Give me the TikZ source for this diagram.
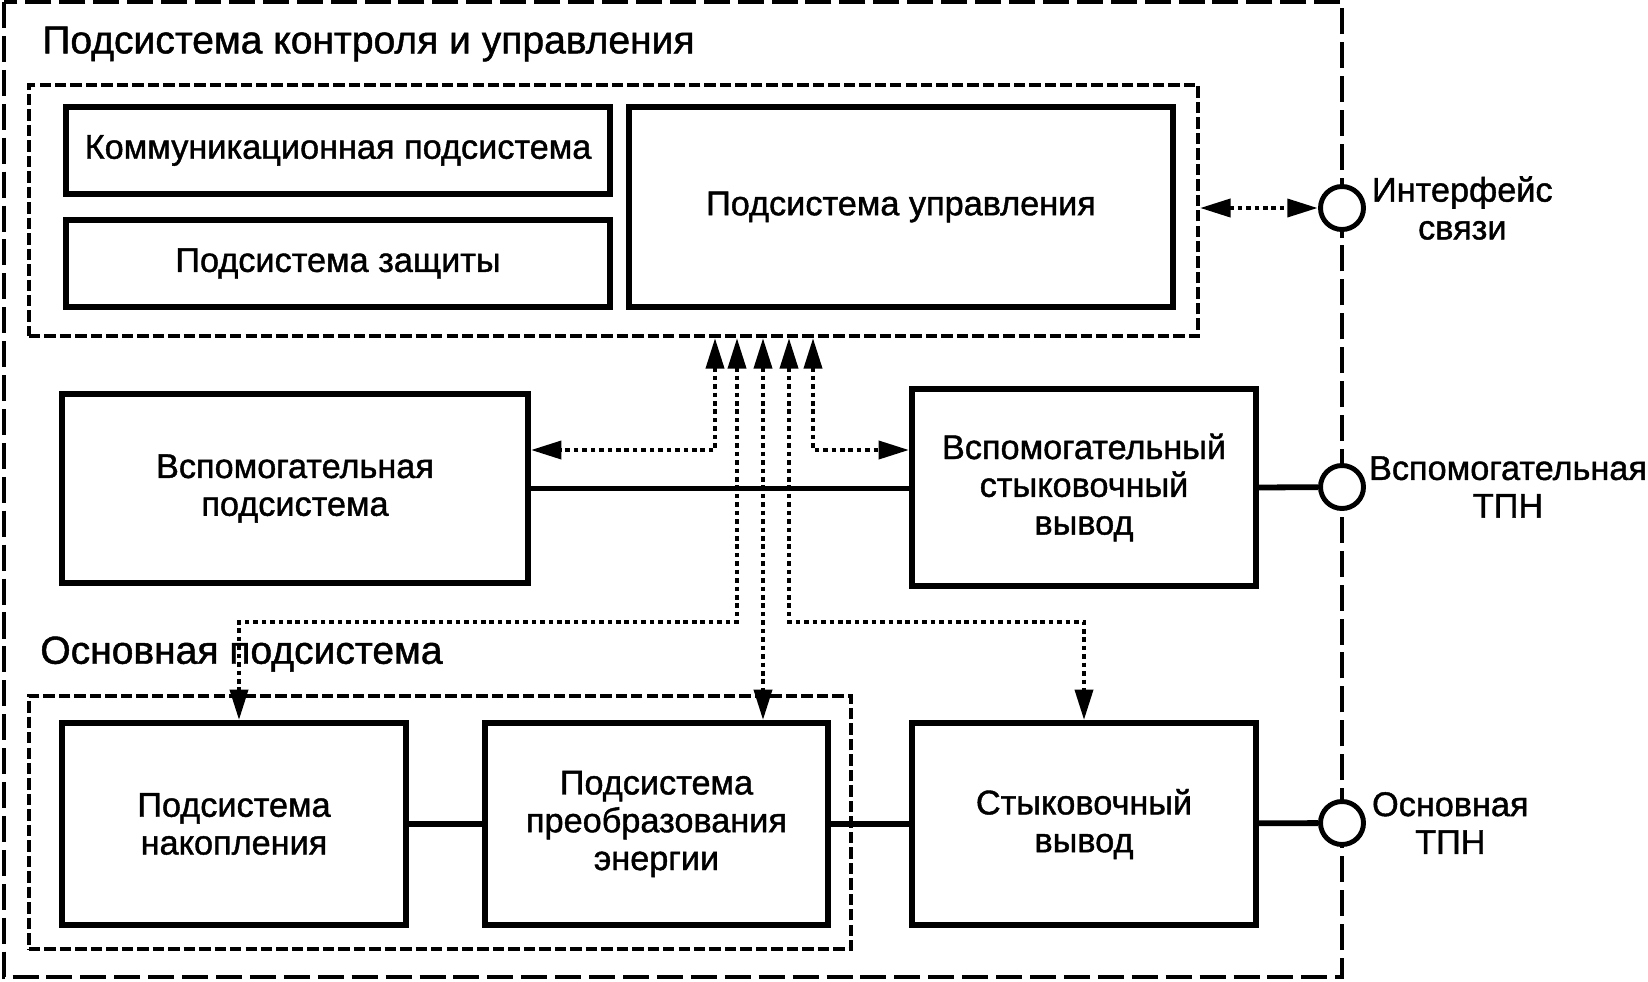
\documentclass[tikz,border=0pt]{standalone}
\usepackage{fontspec}
\setmainfont{Liberation Sans}
\newfontfamily\plotnyi{Liberation Sans}[FakeBold=1.2]
\usetikzlibrary{arrows.meta,positioning}

\tikzset{
  blok/.style={draw, line width=3pt, align=center, inner sep=0pt},
  ramka/.style={line width=1.9pt, dash pattern=on 14.8pt off 4.5pt},
  vnutr/.style={draw, line width=2pt, dash pattern=on 6.5pt off 2.3pt, inner sep=0pt},
  svyaz/.style={line width=3.3pt},
  punktir/.style={line width=2.8pt, dash pattern=on 2.6pt off 2.2pt,
    {Triangle[length=17.5pt,width=10pt]}-{Triangle[length=17.5pt,width=10pt]}},
  vyhod/.style={circle, draw, fill=white, line width=2.8pt, minimum size=0.86cm, inner sep=0pt},
  podpis/.style={align=center, inner sep=1pt},
  zagolovok/.style={anchor=west, inner sep=0pt, font=\plotnyi\fontsize{22.2}{24}\selectfont}
}

\begin{document}
\begin{tikzpicture}[font=\plotnyi\fontsize{19.5}{21.5}\selectfont]
\useasboundingbox (0,0) rectangle (32.96,-19.62);

% outer frame
\draw[ramka] (0.08,-0.04) rectangle (26.84,-19.54);
\node[zagolovok] (zag) at (0.84,-0.88) {Подсистема контроля и управления};

% control subsystem
\node[vnutr, minimum width=23.38cm, minimum height=5.02cm] (upr) at (12.27,-4.21) {};
\node[blok, minimum width=10.88cm, minimum height=1.74cm] (komm) at (6.76,-3.01) {Коммуникационная подсистема};
\node[blok, minimum width=10.88cm, minimum height=1.74cm] (zasch) at (6.76,-5.27) {Подсистема защиты};
\node[blok, minimum width=10.88cm, minimum height=4cm] (uprav) at (18.02,-4.14) {Подсистема управления};

% auxiliary part
\node[blok, minimum width=9.32cm, minimum height=3.78cm] (vsp) at (5.9,-9.77) {Вспомогательная\\подсистема};
\node[blok, minimum width=6.88cm, minimum height=3.94cm] (vspvyv) at (21.68,-9.75) {Вспомогательный\\стыковочный\\вывод};

% main subsystem
\node[zagolovok] (osn) at (0.8,-13.08) {Основная подсистема};
\node[vnutr, minimum width=16.44cm, minimum height=5.06cm] (osnbox) at (8.8,-16.45) {};
\node[blok, minimum width=6.88cm, minimum height=4.04cm] (nakop) at (4.68,-16.48) {Подсистема\\накопления};
\node[blok, minimum width=6.86cm, minimum height=4.04cm] (preob) at (13.13,-16.48) {Подсистема\\преобразования\\энергии};
\node[blok, minimum width=6.88cm, minimum height=4.04cm] (styk) at (21.68,-16.48) {Стыковочный\\вывод};

% ports on the frame
\node[vyhod] (ifc) at (26.84,-4.16) {};
\node[vyhod] (vtpn) at (26.84,-9.74) {};
\node[vyhod] (otpn) at (26.84,-16.46) {};
\node[podpis, right=0.08cm of ifc] (ifctxt) {Интерфейс\\связи};
\node[podpis, right=0.02cm of vtpn] (vtpntxt) {Вспомогательная\\ТПН};
\node[podpis, right=0.08cm of otpn] (otpntxt) {Основная\\ТПН};

% power lines
\draw[svyaz] (vsp.east) -- (vsp.east -| vspvyv.west);
\draw[svyaz] (vspvyv.east) -- (vtpn);
\draw[svyaz] (nakop) -- (preob) -- (styk) -- (otpn);

% signal lines
\draw[punktir] (upr.east |- ifc) -- (ifc);
\draw[punktir] (14.3,0 |- upr.south) |- (vsp.east |- 0,-9.0);
\draw[punktir] (16.26,0 |- upr.south) |- (vspvyv.west |- 0,-9.0);
\draw[punktir] (14.74,0 |- upr.south) |- (4.78,-12.44) -- (4.78,0 |- nakop.north);
\draw[punktir] (15.26,0 |- upr.south) -- (15.26,0 |- preob.north);
\draw[punktir] (15.78,0 |- upr.south) |- (styk.north |- 0,-12.44) -- (styk.north);

\end{tikzpicture}
\end{document}
